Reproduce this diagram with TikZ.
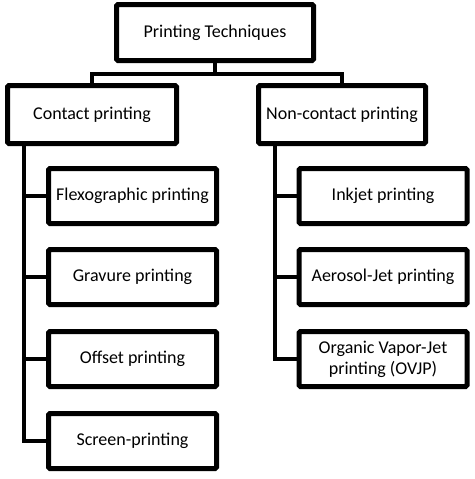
\documentclass[tikz,border=0pt]{standalone}
\usepackage{fontspec}
\setmainfont{Carlito}
\usepackage{tikz}
\usetikzlibrary{
  positioning,
  calc,
  shadows,
  backgrounds,
}

\begin{document}
\begin{tikzpicture}[
  x=1pt, y=-1pt,
  box/.style={
    draw=black, fill=white, line width=5pt, rounded corners=1.5pt,
    minimum width=168pt, minimum height=55pt, align=center,
    font=\fontsize{18}{21}\selectfont, inner sep=2pt,
    drop shadow={shadow xshift=1.2pt, shadow yshift=-1.2pt, opacity=0.35},
  },
  topbox/.style={
    box, minimum width=169pt, minimum height=58pt,
  },
  link/.style={
    draw=black, line width=4.5pt,
  },
]
  \useasboundingbox (0,0) rectangle (474,479);

  % --- root ---
  \node[box, minimum width=197pt, minimum height=56pt] (root) at (215,32.5) {Printing Techniques};

  % --- contact column ---
  \node[topbox] (contact)  at (92,114.5) {Contact printing};
  \node[box] (c-flexo)     at (132.5,196) {Flexographic printing};
  \node[box] (c-gravure)   at (132.5,277) {Gravure printing};
  \node[box] (c-offset)    at (132.5,359) {Offset printing};
  \node[box] (c-screen)    at (132.5,441) {Screen-printing};

  % --- non-contact column ---
  \node[topbox, minimum width=167pt] (noncontact) at (342,114.5) {Non-contact printing};
  \node[box] (n-inkjet)    at (383,196) {Inkjet printing};
  \node[box] (n-aerosol)   at (383,277) {Aerosol-Jet printing};
  \node[box] (n-ovjp)      at (383,359) {Organic Vapor-Jet\\printing (OVJP)};

  % --- tree links ---
  \begin{scope}[on background layer]
    \draw[link] (root.south) -- ++(0,11) -| (contact.north);
    \draw[link] (root.south) -- ++(0,11) -| (noncontact.north);

    \coordinate (c-trunk) at ($(contact.south west)+(19,0)$);
    \coordinate (n-trunk) at ($(noncontact.south west)+(19,0)$);

    \draw[link] (c-trunk) |- (c-screen.west);
    \foreach \n in {c-flexo,c-gravure,c-offset}
      \draw[link] (\n.west) -- (\n.west -| c-trunk);

    \draw[link] (n-trunk) |- (n-ovjp.west);
    \foreach \n in {n-inkjet,n-aerosol}
      \draw[link] (\n.west) -- (\n.west -| n-trunk);
  \end{scope}
\end{tikzpicture}
\end{document}
